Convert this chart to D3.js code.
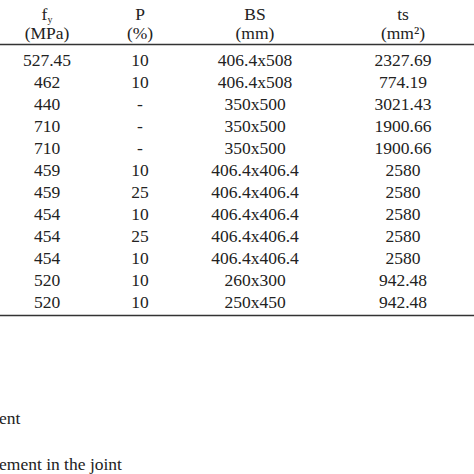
<!DOCTYPE html><html><head><meta charset="utf-8">
<script src="https://cdn.jsdelivr.net/npm/d3@7"></script>
<style>body{margin:0;background:#fff}</style></head><body>
<script>
const fy=["527.45","462","440","710","710","459","459","454","454","454","520","520"];
const P=["10","10","-","-","-","10","25","10","25","10","10","10"];
const BS=["406.4x508","406.4x508","350x500","350x500","350x500","406.4x406.4","406.4x406.4","406.4x406.4","406.4x406.4","406.4x406.4","260x300","250x450"];
const ts=["2327.69","774.19","3021.43","1900.66","1900.66","2580","2580","2580","2580","2580","942.48","942.48"];
const colX=[47,140,255,403];
const svg=d3.select("body").append("svg").attr("width",474).attr("height",474)
 .style("font-family","'Liberation Serif','DejaVu Serif',serif").style("font-size","17.5px").attr("fill","#222");
const y=d3.scaleLinear().domain([0,11]).range([66,308]);
const hdr=[["f","(MPa)"],["P","(%)"],["BS","(mm)"],["ts","(mm²)"]];
hdr.forEach((h,i)=>{
 const t=svg.append("text").attr("x",colX[i]).attr("y",20).attr("text-anchor","middle");
 t.append("tspan").text(h[0]);
 if(i==0)t.append("tspan").attr("font-size","10px").attr("dy",3).text("y");
 svg.append("text").attr("x",colX[i]).attr("y",39).attr("text-anchor","middle").text(h[1]);
});
svg.append("line").attr("x1",0).attr("x2",474).attr("y1",44.5).attr("y2",44.5).attr("stroke","#333").attr("stroke-width",1.3);
svg.append("line").attr("x1",0).attr("x2",474).attr("y1",315.5).attr("y2",315.5).attr("stroke","#333").attr("stroke-width",1.3);
[fy,P,BS,ts].forEach((col,i)=>col.forEach((v,j)=>{
 svg.append("text").attr("x",colX[i]).attr("y",y(j)).attr("text-anchor","middle").text(v);
}));
svg.append("text").attr("x",-1).attr("y",424).text("ent");
svg.append("text").attr("x",-1).attr("y",470).text("ement in the joint");
</script></body></html>
